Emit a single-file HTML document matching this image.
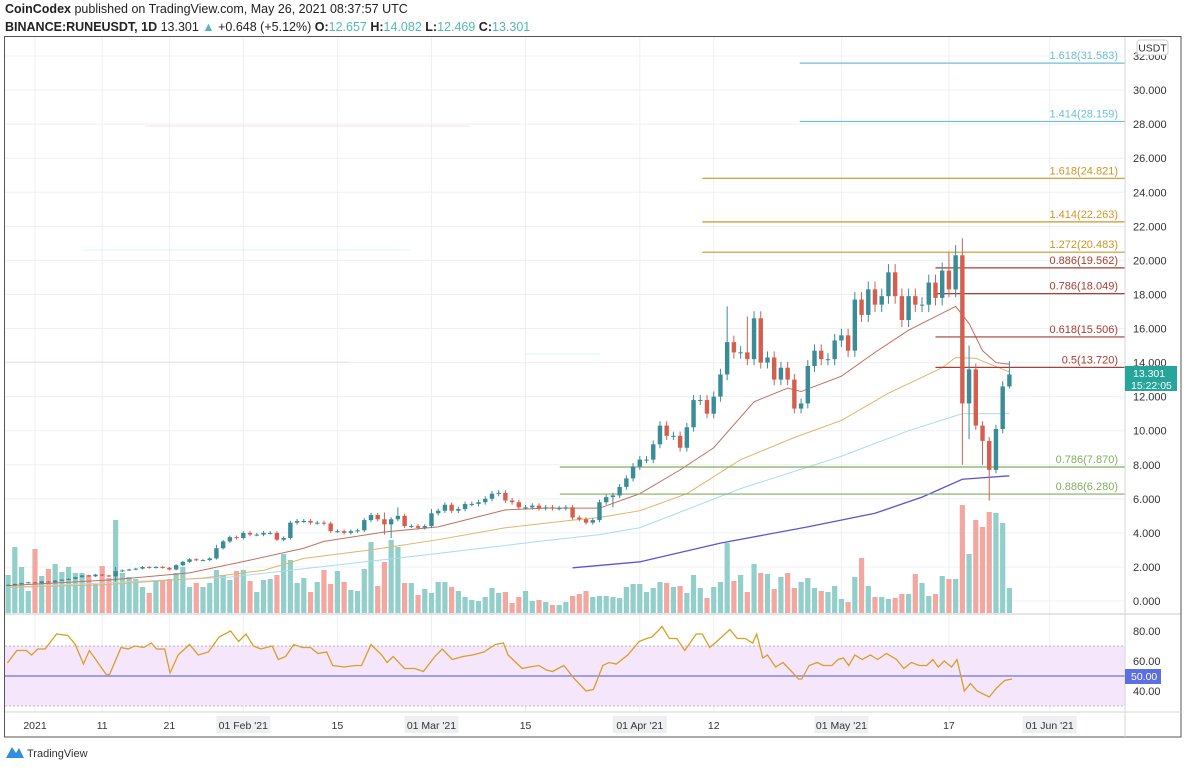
<!DOCTYPE html>
<html><head><meta charset="utf-8">
<style>
html,body{margin:0;padding:0;background:#fff;}
body{width:1186px;height:768px;overflow:hidden;font-family:"Liberation Sans",Arial,sans-serif;}
#hdr1{position:absolute;left:5px;top:2px;font-size:12.5px;color:#222;}
#hdr2{position:absolute;left:5px;top:20px;font-size:12.5px;color:#222;}
.t{color:#53b9b2;}
svg{position:absolute;left:0;top:0;}
</style></head>
<body>
<div id="hdr1"><b>CoinCodex</b> published on TradingView.com, May 26, 2021 08:37:57 UTC</div>
<div id="hdr2"><b>BINANCE:RUNEUSDT, 1D</b> 13.301 <span class="t">▲</span> +0.648 (+5.12%) <b>O:</b><span class="t">12.657</span> <b>H:</b><span class="t">14.082</span> <b>L:</b><span class="t">12.469</span> <b>C:</b><span class="t">13.301</span></div>
<svg id="chart" width="1186" height="768"></svg>
<script>
// ---- data (day 0 = 01 Jan 2021) ----
const firstDay = -4;
const closes = [0.95,1.0,1.05,1.1,
1.05,1.15,1.1,1.2,1.25,1.3,1.4,1.5,1.45,1.55,1.5,1.45,1.75,1.8,1.85,1.9,2.0,1.95,2.0,1.95,1.85,2.1,2.3,2.45,2.4,2.4,2.5,3.1,3.5,3.75,3.7,4.0,3.9,3.9,4.0,4.0,3.6,3.7,4.6,4.7,
4.7,4.6,4.6,4.55,4.1,4.1,4.0,4.1,4.15,4.75,5.05,4.8,4.5,4.8,5.0,4.4,4.4,4.3,4.4,5.15,5.3,5.65,5.3,5.4,5.7,5.7,5.8,6.0,6.3,6.35,5.9,5.8,5.5,5.5,5.6,5.45,5.5,5.45,5.45,5.5,4.9,4.8,4.6,4.75,
5.8,6.1,6.2,6.7,7.2,7.9,8.3,8.3,9.2,10.3,9.7,9.7,9.0,10.2,11.8,11.8,11.0,12.0,13.3,15.2,14.6,14.6,14.2,16.6,14.0,14.3,13.0,13.7,13.0,11.3,11.6,13.8,14.7,14.2,14.2,15.3,15.6,14.7,17.7,16.8,18.3,17.4,17.9,19.3,17.9,16.5,17.9,17.4,17.4,18.7,17.8,19.4,18.3,20.3,11.6,13.6,10.3,9.4,7.7,10.1,12.6,13.301];
const firstOpen = 0.9;
const wickHigh = {12:2.0,27:3.3,52:5.2,54:5.5,59:5.4,103:17.3,106:16.7,136:20.5,137:20.9,138:21.3,139:15.0,145:14.082};
const wickLow = {12:1.15,52:3.9,53:3.7,86:5.5,138:8.0,139:9.5,141:8.0,142:5.9,143:7.5,145:12.469};
const volumes = [38,66,46,22,64,37,44,49,41,46,40,40,38,29,47,35,93,40,36,34,26,20,33,33,34,40,46,26,30,26,30,43,38,33,42,43,32,21,33,34,38,59,53,30,
35,21,31,43,29,42,31,23,22,44,71,27,51,73,66,30,30,18,24,20,31,31,26,22,16,13,12,16,25,20,21,10,16,22,12,13,11,8,8,11,17,19,22,16,17,17,16,15,
26,29,29,21,25,31,30,26,27,20,38,25,15,26,31,70,32,38,21,49,40,39,24,36,40,25,31,35,25,22,21,27,14,11,36,55,27,16,16,14,15,19,19,39,30,17,19,37,34,34,108,59,93,86,101,100,90,25];
const ma20Days = [-4,11,23,32,40,43,52,60,70,76,84,90,96,101,107,112,114,120,125,130,135,137,139,141,143,145];
const ma20Vals = [0.9,1.23,1.65,2.4,3.1,3.5,4.05,4.35,5.35,5.45,5.45,6.3,7.7,9.0,11.7,12.5,12.3,13.2,14.6,15.9,16.9,17.3,16.3,14.7,14.0,13.9];
const ma50Days = [-4,10,25,34,40,50,60,70,80,84,90,97,105,113,120,127,135,137,140,145];
const ma50Vals = [0.8,0.95,1.35,1.8,2.5,3.0,3.6,4.3,4.75,4.9,5.3,6.3,8.3,9.6,10.6,12.2,13.7,14.3,14.25,13.45];
const ma100Days = [-4,29,58,75,84,90,105,120,130,138,145];
const ma100Vals = [0.8,1.4,2.7,3.5,3.9,4.3,6.6,8.5,10.0,11.0,11.0];
const ma200Days = [80,90,102,115,125,132,138,145];
const ma200Vals = [1.95,2.3,3.4,4.35,5.15,6.1,7.15,7.35];
const rsiDays = [-4.1,-2.7,-1.3,-0.5,0.4,1.5,3.2,4.9,6.0,7.2,8.1,10.6,11.1,12.8,13.9,14.8,16.2,17.3,18.1,19.3,20.1,21.3,23.0,24.3,25.8,27.4,29.1,30.3,31.4,32.5,33.6,35.3,36.2,37.3,38.5,39.8,41.0,42.1,43.4,44.3,46.0,47.7,48.6,50.0,51.6,52.4,53.3,55.0,56.5,57.8,59.5,60.6,62.1,63.7,65.1,66.8,68.5,69.7,70.4,72.5,73.6,75.0,76.1,77.0,78.7,80.3,82.0,83.1,84.5,85.4,86.5,88.2,89.9,91.0,91.8,92.7,93.3,94.4,95.5,96.7,98.4,99.3,100.4,101.7,103.4,104.5,105.7,106.8,107.4,108.3,109.0,110.2,111.3,112.8,113.6,114.1,115.2,116.4,117.3,118.6,119.5,120.3,121.1,122.0,123.1,124.3,125.4,126.7,128.2,129.3,130.4,131.6,132.7,133.6,134.4,135.3,136.4,137.2,138.3,139.2,140.2,141.1,142.0,143.1,144.3,145.4];
const rsiVals = [58.7,67,67,64,68,68,78,77,71,58,67,51,51,69,68,70,69,72,68,68,52,64,71,64,66,76,80,73,78,70,68,70,61,63,71,69,69,65,66,57,56,57,57,71,64,59,63,55,55,53,63,68,61,63,64,66,71,72,64,55,56,57,54,53,57,48,40,41,57,59,58,64,73,75,76,80,83,75,75,67,78,78,69,74,81,75,75,72,78,62,64,56,59,52,48,48,57,59,57,57,61,62,57,64,61,64,61,65,61,55,59,57,57,61,56,60,56,61,40,45,40,38,36,42,47,48];
const priceTicks = [0,2,4,6,8,10,12,14,16,18,20,22,24,26,28,30,32];
const rsiTicks = [40,60,80];
const fibVals = [31.583,28.159,24.821,22.263,20.483,19.562,18.049,15.506,13.720,7.870,6.280];
const fibNames = ["1.618","1.414","1.618","1.414","1.272","0.886","0.786","0.618","0.5","0.786","0.886"];
const fibStart = [113.8,113.8,99.3,99.3,99.3,134,134,134,134,78.1,78.1];
const fibColor = ["#6bbfd8","#6bbfd8","#cf9526","#cf9526","#cf9526","#a53e34","#a53e34","#a53e34","#a53e34","#84ac5e","#84ac5e"];
const timeLabels = ["2021","11","21","01 Feb '21","15","01 Mar '21","15","01 Apr '21","12","01 May '21","17","01 Jun '21"];
const timeDays = [0,10,20,31,45,59,73,90,101,120,136,151];

// ---- axes ----
const NS="http://www.w3.org/2000/svg";
const svg=document.getElementById('chart');
const PL=5, PR=1125;
const xOf=d=>35+6.72*d;
const yP=v=>601-17.03*v;
const yV=v=>613-v;
const yR=v=>631-(v-80)*1.5;
function mk(tag,attrs,parent){const e=document.createElementNS(NS,tag);for(const k in attrs)e.setAttribute(k,attrs[k]);(parent||svg).appendChild(e);return e;}

const grid=mk('g',{});


timeDays.forEach(d=>{mk('line',{x1:xOf(d),x2:xOf(d),y1:37,y2:712,stroke:'#eef0f4','stroke-width':1},grid);});
priceTicks.forEach(v=>{mk('line',{x1:PL,x2:PR,y1:yP(v),y2:yP(v),stroke:'#eef0f4','stroke-width':1},grid);});

const defs=mk('defs',{});
const cp=mk('clipPath',{id:'pc'},defs);mk('rect',{x:PL,y:37,width:PR-PL,height:577},cp);

const ghost=mk('g',{opacity:0.5});


mk('line',{x1:145,x2:470,y1:126,y2:126,stroke:'#f6c6d8'},ghost);
mk('line',{x1:82,x2:410,y1:250,y2:250,stroke:'#c7eef6'},ghost);
mk('line',{x1:5,x2:350,y1:362,y2:362,stroke:'#f6c6d8'},ghost);
mk('line',{x1:525,x2:600,y1:354,y2:354,stroke:'#c7eef6'},ghost);

const vg=mk('g',{'clip-path':'url(#pc)'});


let prev=firstOpen;
const opens=[];
closes.forEach((c,i)=>{opens.push(prev);prev=c;});
volumes.forEach((v,i)=>{const d=firstDay+i;const up=closes[i]>=opens[i];
 const r=mk('rect',{x:xOf(d)-2.6,y:yV(v),width:5.2,height:v,fill:up?'#93cfca':'#f2a8a1'},vg);
 
 });

function poly(days,vals,color,name,w){const p=mk('polyline',{points:days.map((d,i)=>xOf(d)+','+yP(vals[i])).join(' '),fill:'none',stroke:color,'stroke-width':w||1,'clip-path':'url(#pc)'});
 
 }
poly(ma100Days,ma100Vals,'#a9dcef','ma-100-line');
poly(ma50Days,ma50Vals,'#e3b46a','ma-50-line');
poly(ma20Days,ma20Vals,'#c0705f','ma-20-line');
poly(ma200Days,ma200Vals,'#5b55d6','ma-200-line',1.3);

fibVals.forEach((v,i)=>{const l=mk('line',{x1:xOf(fibStart[i]),x2:PR,y1:yP(v),y2:yP(v),stroke:fibColor[i],'stroke-width':1.2});
 
 
 const t=mk('text',{x:1118,y:yP(v)-4,'text-anchor':'end','font-size':11,fill:fibColor[i]});t.textContent=fibNames[i]+'('+v.toFixed(3)+')';
 
 });

const cg=mk('g',{'clip-path':'url(#pc)'});


closes.forEach((c,i)=>{const d=firstDay+i,o=opens[i],up=c>=o;
 const hi=wickHigh[d]!==undefined?wickHigh[d]:Math.max(o,c)*1.025;
 const lo=wickLow[d]!==undefined?wickLow[d]:Math.min(o,c)*0.975;
 const col=up?'#3a8c97':'#d45f4e';const x=xOf(d);
 const w=mk('line',{x1:x,x2:x,y1:yP(hi),y2:yP(lo),stroke:col,'stroke-width':1},cg);
 
 
 const top=yP(Math.max(o,c)),h=Math.max(1,Math.abs(yP(o)-yP(c)));
 const b=mk('rect',{x:x-2.2,y:top,width:4.4,height:h,fill:col},cg);
 
 });

const rg=mk('g',{});


mk('line',{x1:PL,x2:1181,y1:614,y2:614,stroke:'#c8cbd2'},rg);
mk('rect',{x:PL,y:yR(70),width:PR-PL,height:yR(30)-yR(70),fill:'#f5e6fb'},rg);
mk('line',{x1:PL,x2:PR,y1:yR(70),y2:yR(70),stroke:'#b8b8c4','stroke-dasharray':'2,2'},rg);
mk('line',{x1:PL,x2:PR,y1:yR(30),y2:yR(30),stroke:'#b8b8c4','stroke-dasharray':'2,2'},rg);
mk('line',{x1:PL,x2:PR,y1:yR(50),y2:yR(50),stroke:'#6f72e6','stroke-width':1.3},rg);
const rl=mk('polyline',{points:rsiDays.map((d,i)=>xOf(d)+','+yR(rsiVals[i])).join(' '),fill:'none',stroke:'#d6a128','stroke-width':1.3},rg);



mk('rect',{x:4.5,y:36.5,width:1176.5,height:700.5,fill:'none',stroke:'#555','stroke-width':1});
mk('line',{x1:PR,x2:PR,y1:37,y2:737,stroke:'#d4d6dc'});
mk('line',{x1:PL,x2:1181,y1:712,y2:712,stroke:'#d4d6dc'});

priceTicks.forEach(v=>{const t=mk('text',{x:1133,y:yP(v)+4,'font-size':11,fill:'#333'});t.textContent=v.toFixed(3);
 
 });
const ub=mk('rect',{x:1137,y:40,width:31,height:15,rx:3,fill:'#fff',stroke:'#ccc'});


const ut=mk('text',{x:1152.5,y:51.5,'font-size':10.5,'text-anchor':'middle',fill:'#333'});ut.textContent='USDT';
const cpR=mk('rect',{x:1125,y:366,width:52,height:25,fill:'#26a69a'});


let t1=mk('text',{x:1133,y:377,'font-size':10.5,fill:'#fff'});t1.textContent='13.301';
let t2=mk('text',{x:1131,y:389,'font-size':10.5,fill:'#fff'});t2.textContent='15:22:05';
rsiTicks.forEach(v=>{const t=mk('text',{x:1133,y:yR(v)+4,'font-size':11,fill:'#333'});t.textContent=v.toFixed(2);
 
 });
const rb=mk('rect',{x:1125,y:669,width:36,height:15,fill:'#5b6fe0'});


let t3=mk('text',{x:1131,y:680,'font-size':10.5,fill:'#fff'});t3.textContent='50.00';

timeLabels.forEach((s,i)=>{const x=xOf(timeDays[i]);
 if(s.indexOf("'")>0){mk('rect',{x:x-27,y:716,width:54,height:17,fill:'#eeeff2'});}
 const t=mk('text',{x:x,y:729,'font-size':10.5,'text-anchor':'middle',fill:'#333'});t.textContent=s;
 
 });

const lg=mk('g',{});


mk('path',{d:'M6 758 L12 747 L16 753 L19 748 L24 758 Z',fill:'#2f8ee0'},lg);
const lt=mk('text',{x:27,y:757,'font-size':11,fill:'#333'},lg);lt.textContent='TradingView';
</script>
</body></html>
